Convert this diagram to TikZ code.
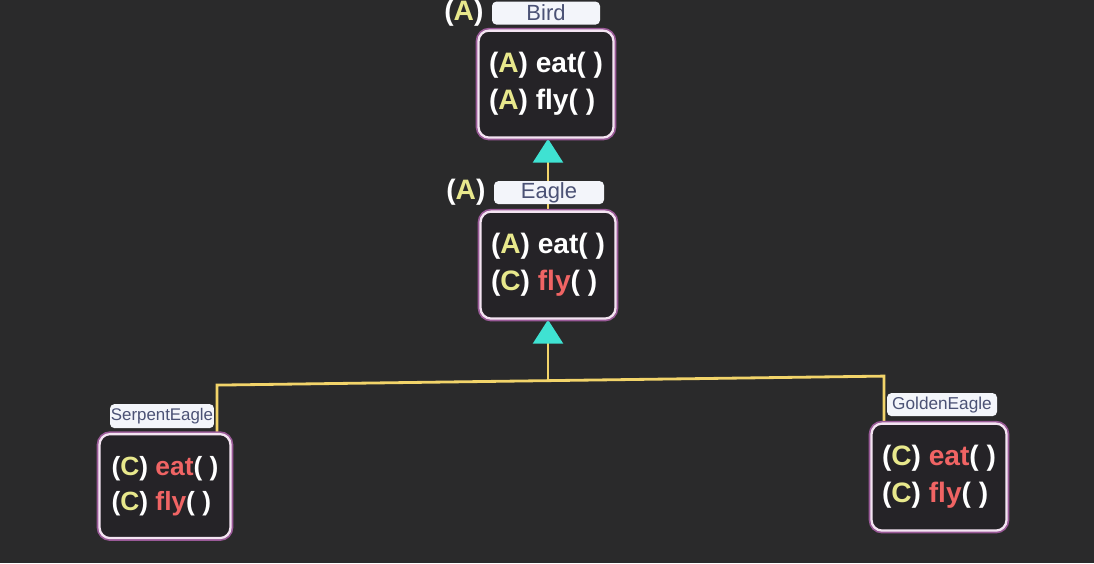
\documentclass[tikz,border=0pt]{standalone}
\usepackage{fontspec}
\setmainfont{Liberation Sans}
\usetikzlibrary{arrows.meta,positioning,backgrounds}

\definecolor{screen}{HTML}{2A2A2B}
\definecolor{inner}{HTML}{252327}
\definecolor{edge}{HTML}{F4E4F2}
\definecolor{glow}{HTML}{9A5A98}
\definecolor{wire}{HTML}{F2D46A}
\definecolor{tip}{HTML}{3FE2D2}
\definecolor{tabfill}{HTML}{F3F5FA}
\definecolor{tabtext}{HTML}{4B5275}
\definecolor{kindcol}{HTML}{E8E88C}
\definecolor{implcol}{HTML}{F06464}

\newcommand{\kind}[1]{({\color{kindcol}#1})}
\newcommand{\impl}[1]{{\color{implcol}#1}}

\tikzset{
  classbox/.style={draw=edge, line width=1.3pt, fill=inner, rounded corners=6pt,
    minimum width=2.7cm, minimum height=2.14cm, align=left, text=white,
    font=\fontsize{16}{21}\selectfont\bfseries,
    preaction={draw=glow, line width=3.2pt}},
  nametab/.style={fill=tabfill, rounded corners=2.5pt, text=tabtext, inner sep=0pt,
    minimum height=0.46cm},
  kindlabel/.style={text=white, inner sep=0pt, font=\fontsize{16}{21}\selectfont\bfseries},
  link/.style={draw=wire, line width=1.6pt},
  up/.style={link, -{Triangle[width=0.6cm,length=0.48cm,color=tip]}}
}

\begin{document}
\begin{tikzpicture}[x=0.02cm,y=-0.02cm]
  % class boxes
  \node[classbox] (bird) at (546,84) {\kind{A} eat( )\\ \kind{A} fly( )};
  \node[classbox] (eagle) at (548,265) {\kind{A} eat( )\\ \kind{C} \impl{fly}( )};
  \node[classbox, minimum width=2.62cm, minimum height=2.08cm,
    font=\fontsize{15}{20}\selectfont\bfseries] (serpent) at (165,486)
    {\kind{C} \impl{eat}( )\\ \kind{C} \impl{fly}( )};
  \node[classbox] (golden) at (939,477) {\kind{C} \impl{eat}( )\\ \kind{C} \impl{fly}( )};

  % name tabs
  \begin{scope}[every node/.style={nametab}]
    \node[minimum width=2.16cm, font=\fontsize{12.5}{14}\selectfont] (birdtab) at (546,13) {Bird};
    \node[minimum width=2.2cm, font=\fontsize{12.5}{14}\selectfont] (eagletab) at (549,192.5) {Eagle};
    \node[minimum width=2.08cm, minimum height=0.48cm, font=\fontsize{9.6}{11}\selectfont] (serpenttab) at (162,416) {SerpentEagle};
    \node[minimum width=2.2cm, font=\fontsize{9.8}{11}\selectfont] (goldentab) at (942,404.5) {GoldenEagle};
  \end{scope}
  \node[kindlabel, left=4.5pt of birdtab] (birdkind) {\kind{A}};
  \node[kindlabel, left=4.5pt of eagletab] (eaglekind) {\kind{A}};

  \coordinate (hub) at (548,381);
  \coordinate (lefthook) at (217,385);
  \coordinate (righthook) at (884,376);

  \begin{scope}[on background layer]
    \fill[screen] (0,0) rectangle (1094,563);
    \draw[up] (eagle.north) -- (eagle.north |- bird.south);
    \draw[up] (hub) -- (eagle.south);
    \draw[link] (serpent.north -| lefthook) -- (lefthook) -- (righthook) -- (righthook |- golden.north);
  \end{scope}
\end{tikzpicture}
\end{document}
